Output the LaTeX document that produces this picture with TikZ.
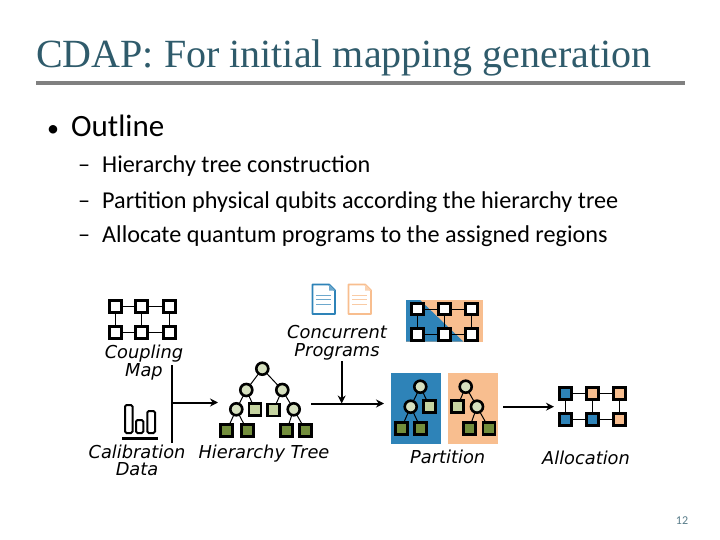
\documentclass[tikz,border=0pt]{standalone}
\usepackage{fontspec}
\setmainfont{Carlito}
\newfontfamily\titlefont{Liberation Serif}
\newfontfamily\labelfont{DejaVu Sans}
\usetikzlibrary{arrows.meta}
\definecolor{qblue}{HTML}{2E83B8}
\definecolor{qorange}{HTML}{F8BE8F}
\definecolor{leaf}{HTML}{738E3C}
\definecolor{mid}{HTML}{C5D3A0}
\definecolor{inner}{HTML}{D6E0BF}
\definecolor{titlecol}{HTML}{2F5B6B}
\tikzset{
  qbit/.style={draw=black,line width=3pt,minimum size=11.5pt,inner sep=0pt,outer sep=0pt,fill=white,rectangle},
  tcirc/.style={draw=black,line width=2.6pt,circle,minimum size=12pt,inner sep=0pt,outer sep=0pt,fill=inner},
  tsq/.style={qbit,line width=2.6pt,minimum size=12pt,fill=mid},
  tleaf/.style={qbit,line width=2.6pt,minimum size=12pt,fill=leaf},
  thin link/.style={draw=black,line width=1pt},
  flow/.style={draw=black,line width=2pt,-{Stealth[length=8pt,width=8pt]}},
  bar/.style={draw=black,line width=2pt},
  lab/.style={font=\labelfont\itshape\fontsize{17.8}{19}\selectfont,inner sep=0pt,anchor=base},
  head/.style={font=\fontsize{31}{33}\selectfont,inner sep=0pt,anchor=base west},
  sub/.style={font=\fontsize{24.2}{26}\selectfont,inner sep=0pt,anchor=base west},
  doc/.style={line width=1.8pt,line join=round,fill=white},
}
\begin{document}
\begin{tikzpicture}[x=1pt,y=-1pt]
\useasboundingbox (0,0) rectangle (720,540);
% header
\node[anchor=base west,inner sep=0pt,text=titlecol,font=\titlefont\fontsize{40}{42}\selectfont] (title) at (36,67.5) {CDAP: For initial mapping generation};
\fill[gray] (36,81.5) rectangle (685,85.5);
\node[anchor=base west,inner sep=0pt,font=\fontsize{24}{26}\selectfont] (b0) at (47,137) {•};
\node[head] (t0) at (71,137) {Outline};
\node[sub] (d1) at (78,173) {–}; \node[sub] (t1) at (102,173) {Hierarchy tree construction};
\node[sub] (d2) at (78,208) {–}; \node[sub] (t2) at (102,208) {Partition physical qubits according the hierarchy tree};
\node[sub] (d3) at (78,242) {–}; \node[sub] (t3) at (102,242) {Allocate quantum programs to the assigned regions};
% coupling map
\foreach \n/\x/\y in {a/115.7/306.7,b/141.7/306.7,c/169.3/306.7,d/115.7/332.3,e/141.7/332.3,f/169.3/332.3}
  \node[qbit] (cm\n) at (\x,\y) {};
\foreach \p/\q in {a/b,b/c,d/e,e/f,a/d,b/e,c/f} \draw[thin link] (cm\p) -- (cm\q);
\node[lab] (lcp) at (144,358.5) {Coupling};
\node[lab] (lmp) at (144,376.5) {Map};
% calibration icon
\draw[bar,rounded corners=1.5pt] (125,433) rectangle (132.5,405);
\draw[bar,rounded corners=1.5pt] (136,433) rectangle (143.3,420);
\draw[bar,rounded corners=1.5pt] (147.3,433) rectangle (155,411);
\draw[black,line width=2.4pt] (122.3,438.3) -- (157.7,438.3);
\node[lab] (lcal) at (137,458) {Calibration};
\node[lab] (ldat) at (137,475.5) {Data};
% merge connector
\coordinate (mt) at (171.7,365);
\coordinate (mb) at (171.7,442.7);
\coordinate (mm) at (171.7,402.5);
\coordinate (mh) at (218,402.5);
\draw[black,line width=2pt] (mt) -- (mb);
\draw[flow] (mm) -- (mh);
% hierarchy tree
\node[tcirc] (r) at (262.3,368.7) {};
\node[tcirc] (n1) at (246.3,390) {};
\node[tcirc] (n2) at (282.3,390) {};
\node[tcirc] (n3) at (236.3,409.3) {};
\node[tsq] (s1) at (255,409.3) {};
\node[tsq] (s2) at (273.3,410) {};
\node[tcirc] (n4) at (293.7,409.3) {};
\node[tleaf] (l1) at (226.7,430.7) {};
\node[tleaf] (l2) at (247.3,430.7) {};
\node[tleaf] (l3) at (286.7,430.7) {};
\node[tleaf] (l4) at (305.7,430.7) {};
\foreach \p/\q in {r/n1,r/n2,n1/n3,n1/s1,n2/s2,n2/n4,n3/l1,n3/l2,n4/l3,n4/l4} \draw[thin link] (\p) -- (\q);
\node[lab] (lht) at (264,458) {Hierarchy Tree};
% programs
\draw[doc,draw=qblue] (312.5,284.5) -- (329,284.5) -- (335,290.5) -- (335,314) -- (312.5,314) -- cycle;
\draw[doc,draw=qorange] (348.5,284.5) -- (365,284.5) -- (371,290.5) -- (371,314) -- (348.5,314) -- cycle;
\fill[qblue!70] (329,284.5) -- (335,290.5) -- (329,290.5) -- cycle;
\fill[qorange!70] (365,284.5) -- (371,290.5) -- (365,290.5) -- cycle;
\draw[qblue!70,line width=1pt] (316,295) -- (331,295) (316,299.5) -- (331,299.5) (316,304) -- (331,304);
\draw[qorange!80,line width=1pt] (352,295) -- (367,295) (352,299.5) -- (367,299.5) (352,304) -- (367,304);
\node[lab] (lcc) at (337,338.5) {Concurrent};
\node[lab] (lpr) at (337,356.5) {Programs};
% flow to partition
\coordinate (f1) at (311,403.5);
\coordinate (f2) at (384,403.5);
\coordinate (f3) at (341.7,361);
\coordinate (f4) at (341.7,403.5);
\draw[flow] (f1) -- (f2);
\draw[flow] (f3) -- (f4);
% partitioned map
\fill[qorange] (406,300) rectangle (482.7,341.7);
\fill[qblue] (406,300) -- (420,300) -- (463.5,341.7) -- (406,341.7) -- cycle;
\foreach \n/\x/\y in {a/417.3/309,b/444.7/309,c/471.3/309,d/417.3/334.3,e/444.7/334.3,f/471.3/334.3}
  \node[qbit] (pm\n) at (\x,\y) {};
\foreach \p/\q in {a/b,b/c,d/e,e/f,a/d,b/e,c/f} \draw[thin link] (pm\p) -- (pm\q);
% partition
\fill[qblue] (391,373) rectangle (441,443.7);
\fill[qorange] (448,373) rectangle (498,443.7);
\node[tcirc] (pr) at (420.3,386.7) {};
\node[tcirc] (pn) at (410.7,406.7) {};
\node[tsq] (ps) at (429.7,406.7) {};
\node[tleaf] (pl1) at (401.3,428.3) {};
\node[tleaf] (pl2) at (420.7,428.3) {};
\foreach \p/\q in {pr/pn,pr/ps,pn/pl1,pn/pl2} \draw[thin link] (\p) -- (\q);
\node[tcirc] (qr) at (465.7,386.7) {};
\node[tsq] (qs) at (457.3,406.7) {};
\node[tcirc] (qn) at (477,406.7) {};
\node[tleaf] (ql1) at (469.3,428.3) {};
\node[tleaf] (ql2) at (489,428.3) {};
\foreach \p/\q in {qr/qs,qr/qn,qn/ql1,qn/ql2} \draw[thin link] (\p) -- (\q);
\node[lab] (lpa) at (447.7,463.5) {Partition};
% flow to allocation
\coordinate (g1) at (503,406.7);
\coordinate (g2) at (554,406.7);
\draw[flow] (g1) -- (g2);
% allocation
\foreach \n/\x/\y/\c in {a/565.3/393.3/qblue,b/592.3/393.3/qorange,c/619.3/393.3/qorange,d/565.3/419.3/qblue,e/592.3/419.3/qblue,f/619.3/419.3/qorange}
  \node[qbit,fill=\c] (al\n) at (\x,\y) {};
\foreach \p/\q in {a/b,b/c,d/e,e/f,a/d,b/e,c/f} \draw[thin link] (al\p) -- (al\q);
\node[lab] (lal) at (586,464.5) {Allocation};
% page number
\node[anchor=base,inner sep=0pt,text=titlecol!80,font=\fontsize{12}{13}\selectfont] (pg) at (682,524) {12};
\end{tikzpicture}
\end{document}
